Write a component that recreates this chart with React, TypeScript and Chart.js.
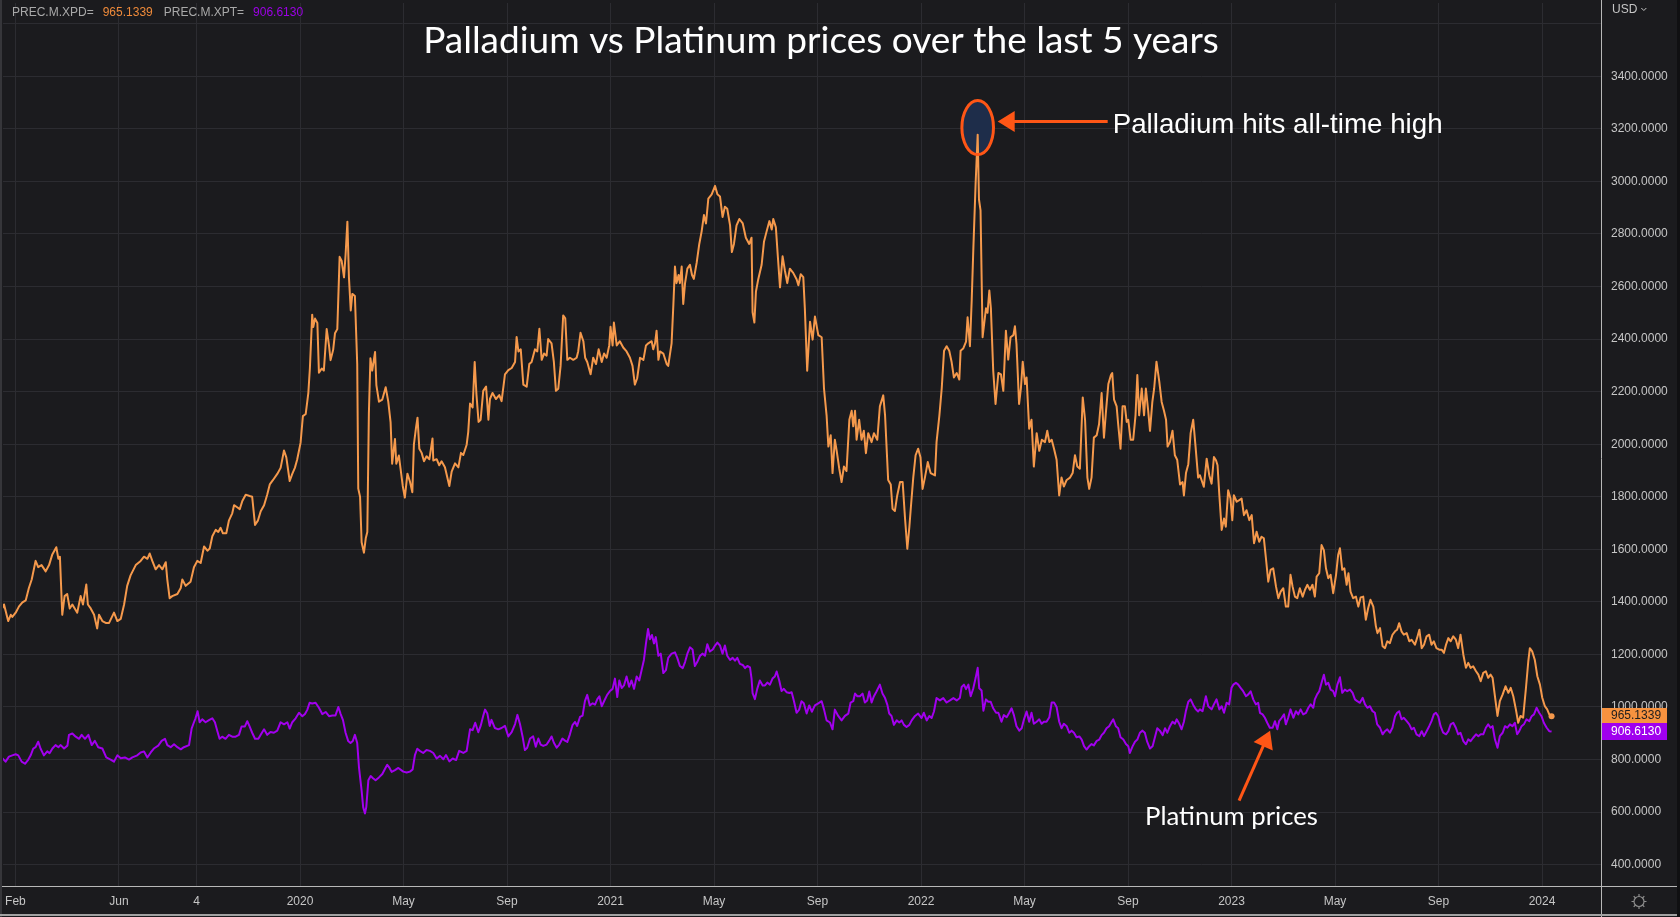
import React, { useEffect, useRef } from 'react';
import { Chart, registerables } from 'chart.js';

Chart.register(...registerables);

// x = months since 1 Jan 2019, y = USD price
const palladium: [number, number][] = [
[0.52,1365],[0.64,1390],[0.80,1327],[0.90,1351],[0.96,1343],[1.09,1359],[1.22,1383],[1.35,1398],[1.48,1406],[1.60,1453],[1.71,1485],[1.86,1556],[1.96,1532],[2.09,1540],[2.25,1516],[2.38,1540],[2.50,1579],[2.66,1608],[2.74,1564],[2.80,1572],[2.89,1351],[2.98,1422],[3.08,1430],[3.18,1375],[3.28,1390],[3.47,1359],[3.60,1422],[3.69,1390],[3.82,1466],[3.88,1390],[3.99,1375],[4.12,1351],[4.24,1299],[4.31,1351],[4.44,1327],[4.57,1320],[4.70,1320],[4.89,1359],[5.02,1327],[5.15,1335],[5.28,1390],[5.40,1461],[5.53,1501],[5.73,1540],[5.92,1556],[6.05,1572],[6.18,1564],[6.27,1584],[6.37,1556],[6.50,1524],[6.63,1540],[6.76,1524],[6.89,1551],[6.95,1485],[7.04,1414],[7.14,1422],[7.34,1430],[7.47,1453],[7.53,1485],[7.66,1461],[7.85,1477],[7.98,1532],[8.11,1556],[8.24,1548],[8.37,1611],[8.50,1595],[8.59,1603],[8.69,1650],[8.82,1674],[8.92,1666],[9.01,1682],[9.10,1661],[9.23,1661],[9.33,1709],[9.46,1737],[9.53,1768],[9.65,1760],[9.75,1753],[9.85,1784],[9.98,1808],[10.13,1803],[10.23,1800],[10.34,1693],[10.45,1709],[10.56,1745],[10.69,1768],[10.81,1808],[10.91,1847],[11.03,1863],[11.20,1887],[11.33,1910],[11.46,1976],[11.55,1950],[11.68,1860],[11.78,1887],[11.88,1910],[11.97,1942],[12.10,2005],[12.19,2107],[12.30,2115],[12.40,2194],[12.46,2288],[12.55,2493],[12.59,2446],[12.66,2478],[12.75,2461],[12.81,2272],[12.92,2288],[13.00,2280],[13.11,2438],[13.20,2375],[13.26,2320],[13.36,2359],[13.43,2422],[13.52,2438],[13.61,2713],[13.69,2697],[13.78,2635],[13.84,2721],[13.91,2847],[13.97,2635],[14.04,2509],[14.10,2572],[14.20,2564],[14.29,2304],[14.33,1831],[14.40,1800],[14.46,1627],[14.55,1587],[14.62,1642],[14.68,1666],[14.74,2115],[14.80,2327],[14.87,2280],[14.98,2351],[15.03,2225],[15.13,2162],[15.26,2170],[15.39,2217],[15.49,2162],[15.58,2083],[15.64,1926],[15.75,2020],[15.80,1926],[15.90,1957],
[16.05,1841],[16.13,1797],[16.23,1888],[16.33,1857],[16.42,1817],[16.48,1998],[16.56,2061],[16.62,2101],[16.69,1983],[16.78,1967],[16.87,1935],[16.97,1954],[17.08,1943],[17.20,2022],[17.23,1938],[17.36,1943],[17.46,1920],[17.55,1935],[17.68,1912],[17.85,1841],[17.94,1896],[18.07,1927],[18.20,1912],[18.30,1967],[18.39,1959],[18.52,1998],[18.58,2046],[18.65,2155],[18.75,2140],[18.83,2313],[18.90,2187],[18.98,2085],[19.06,2093],[19.16,2203],[19.27,2219],[19.36,2093],[19.42,2172],[19.52,2195],[19.65,2172],[19.78,2187],[19.87,2164],[20.00,2266],[20.13,2282],[20.26,2290],[20.39,2313],[20.45,2408],[20.52,2353],[20.61,2361],[20.71,2227],[20.84,2219],[20.94,2305],[21.03,2313],[21.16,2361],[21.25,2353],[21.33,2439],[21.42,2321],[21.51,2345],[21.61,2337],[21.67,2400],[21.80,2384],[21.89,2313],[21.97,2203],[22.06,2211],[22.15,2298],[22.25,2490],[22.33,2479],[22.41,2321],[22.51,2329],[22.64,2321],[22.77,2329],[22.83,2353],[22.92,2424],[23.03,2392],[23.10,2329],[23.18,2313],[23.31,2266],[23.41,2329],[23.52,2305],[23.62,2361],[23.74,2313],[23.83,2345],[23.93,2329],[24.03,2376],[24.08,2447],[24.16,2376],[24.21,2463],[24.32,2376],[24.44,2392],[24.57,2368],[24.70,2353],[24.83,2329],[24.93,2298],[25.02,2227],[25.11,2251],[25.22,2329],[25.35,2321],[25.45,2376],[25.54,2384],[25.67,2392],[25.73,2361],[25.80,2384],[25.86,2432],[25.93,2321],[25.99,2353],[26.12,2345],[26.25,2305],[26.31,2298],[26.44,2384],[26.51,2534],[26.57,2676],[26.63,2613],[26.71,2644],[26.76,2613],[26.83,2676],[26.89,2534],[26.96,2613],[27.05,2668],[27.15,2683],[27.23,2644],[27.30,2629],[27.41,2691],[27.51,2762],[27.60,2809],[27.69,2872],[27.77,2840],[27.86,2935],[27.99,2951],[28.12,2983],[28.21,2951],[28.31,2943],[28.41,2865],[28.50,2904],[28.59,2896],[28.70,2833],[28.77,2731],[28.85,2762],[28.95,2833],[29.06,2857],[29.19,2840],[29.31,2786],[29.44,2762],[29.53,2786],[29.57,2502],[29.64,2463],[29.70,2581],[29.79,2628],[29.92,2683],[30.01,2770],[30.11,2809],[30.22,2849],[30.31,2817],[30.37,2857],[30.47,2825],[30.54,2723],[30.63,2597],[30.73,2715],[30.82,2660],[30.91,2613],[31.01,2668],[31.14,2652],[31.27,2628],[31.34,2605],[31.43,2647],[31.53,2636],
[31.59,2517],[31.68,2280],[31.79,2466],[31.89,2398],[31.98,2486],[32.11,2415],[32.24,2407],[32.33,2212],[32.43,2110],[32.50,1991],[32.59,2034],[32.66,1890],[32.75,2017],[32.82,1975],[32.92,1907],[33.01,1856],[33.10,1915],[33.20,1898],[33.31,2093],[33.40,2127],[33.46,2068],[33.53,2127],[33.59,2017],[33.69,2093],[33.78,2017],[33.87,2051],[33.95,1966],[34.04,2042],[34.17,2008],[34.26,2042],[34.39,2017],[34.49,2144],[34.62,2186],[34.69,2110],[34.81,1864],[34.91,1847],[34.98,1754],[35.07,1746],[35.16,1805],[35.27,1856],[35.37,1856],[35.46,1720],[35.55,1602],[35.63,1686],[35.69,1763],[35.78,1873],[35.87,1958],[35.97,1983],[36.06,1949],[36.14,1830],[36.23,1873],[36.34,1932],[36.45,1890],[36.62,1881],[36.68,2008],[36.79,2110],[36.88,2212],[36.97,2356],[37.07,2373],[37.17,2356],[37.26,2314],[37.35,2254],[37.46,2271],[37.56,2246],[37.61,2356],[37.71,2364],[37.82,2390],[37.88,2483],[37.97,2373],[38.04,2551],[38.10,2737],[38.19,2992],[38.27,3178],[38.32,2932],[38.38,2890],[38.46,2407],[38.52,2458],[38.59,2517],[38.65,2500],[38.72,2585],[38.78,2517],[38.87,2280],[38.96,2153],[39.07,2271],[39.17,2266],[39.26,2203],[39.36,2432],[39.45,2322],[39.54,2407],[39.65,2415],[39.71,2449],[39.77,2381],[39.87,2153],[39.94,2212],[40.01,2314],[40.10,2229],[40.16,2254],[40.26,2059],[40.35,2093],[40.44,1915],[40.55,2042],[40.65,1975],[40.75,2017],[40.87,2008],[40.96,2051],[41.04,2008],[41.13,2017],[41.22,1983],[41.32,1941],[41.42,1805],[41.51,1873],[41.60,1839],[41.71,1864],[41.84,1873],[41.94,1890],[42.03,1958],[42.12,1915],[42.22,1907],[42.33,2178],[42.42,2093],[42.51,1873],[42.58,1830],[42.67,1873],[42.76,2025],[42.87,2034],[42.96,2076],[43.06,2195],[43.15,2025],[43.23,2127],[43.32,2229],[43.42,2263],[43.47,2271],[43.54,2170],[43.64,2144],[43.70,2076],[43.79,1983],[43.87,2144],[43.96,2144],[44.03,2085],[44.09,2093],[44.18,2017],[44.28,2017],[44.37,2110],[44.44,2263],[44.51,2110],[44.61,2212],[44.70,2110],[44.77,2212],[44.86,2127],[44.93,2051],[45.02,2161],[45.09,2212],[45.18,2314],[45.29,2237],[45.38,2161],[45.47,2127],[45.55,2093],[45.61,1991],[45.70,2008],[45.80,2051],[45.89,1958],[45.98,1941],[46.09,1847],[46.19,1856],[46.24,1805],[46.32,1890],[46.41,1924],[46.50,2042],[46.60,2093],[46.69,1991],[46.79,1873],
[46.86,1882],[47.01,1838],[47.12,1945],[47.22,1882],[47.31,1850],[47.40,1951],[47.48,1939],[47.54,1920],[47.61,1806],[47.70,1674],[47.79,1717],[47.86,1686],[47.95,1825],[48.04,1793],[48.11,1711],[48.17,1806],[48.28,1781],[48.38,1787],[48.47,1793],[48.56,1730],[48.66,1749],[48.77,1711],[48.86,1730],[48.95,1623],[49.05,1667],[49.15,1629],[49.24,1648],[49.33,1642],[49.41,1566],[49.50,1477],[49.59,1522],[49.69,1528],[49.80,1458],[49.89,1414],[49.98,1439],[50.08,1452],[50.18,1382],[50.27,1382],[50.36,1503],[50.44,1458],[50.53,1420],[50.62,1414],[50.72,1452],[50.83,1420],[50.92,1446],[51.01,1465],[51.11,1446],[51.21,1465],[51.30,1420],[51.37,1496],[51.47,1509],[51.56,1616],[51.65,1597],[51.73,1528],[51.82,1490],[51.91,1503],[52.01,1433],[52.12,1503],[52.20,1578],[52.27,1604],[52.36,1522],[52.44,1528],[52.53,1465],[52.60,1509],[52.68,1439],[52.78,1414],[52.89,1420],[52.98,1382],[53.07,1417],[53.17,1420],[53.27,1332],[53.36,1376],[53.45,1408],[53.56,1382],[53.66,1307],[53.72,1281],[53.82,1300],[53.92,1231],[54.01,1224],[54.10,1250],[54.20,1243],[54.30,1275],[54.40,1288],[54.48,1294],[54.56,1319],[54.65,1288],[54.74,1275],[54.85,1281],[54.95,1250],[55.04,1256],[55.17,1237],[55.25,1262],[55.34,1294],[55.43,1224],[55.52,1237],[55.62,1269],[55.72,1275],[55.81,1237],[55.90,1250],[56.00,1224],[56.11,1218],[56.20,1218],[56.29,1206],[56.37,1237],[56.46,1262],[56.55,1250],[56.65,1269],[56.75,1256],[56.84,1224],[56.93,1275],[57.04,1199],[57.14,1149],[57.23,1168],[57.32,1149],[57.42,1155],[57.53,1136],[57.62,1123],[57.71,1098],[57.81,1130],[57.91,1136],[58.00,1111],[58.09,1123],[58.17,1111],[58.26,1041],[58.36,966],[58.45,1022],[58.56,1048],[58.67,1079],[58.78,1054],[58.87,1073],[58.97,1041],[59.07,991],[59.16,940],[59.25,966],[59.35,959],[59.46,1073],[59.55,1174],[59.61,1224],[59.70,1212],[59.80,1180],[59.90,1117],[60.00,1085],[60.09,1035],[60.19,1003],[60.28,991],[60.36,972],[60.45,965.1339]
];

const platinum: [number, number][] = [
[0.55,808],[0.70,792],[0.83,811],[0.96,816],[1.09,820],[1.19,816],[1.32,792],[1.45,784],[1.58,800],[1.67,816],[1.77,842],[1.86,847],[1.96,868],[2.05,842],[2.18,816],[2.31,831],[2.40,824],[2.51,842],[2.63,855],[2.74,847],[2.83,855],[2.96,842],[3.09,853],[3.15,894],[3.28,899],[3.41,887],[3.54,879],[3.64,894],[3.77,879],[3.90,894],[4.03,855],[4.15,871],[4.28,847],[4.44,842],[4.59,808],[4.76,800],[4.89,792],[5.02,816],[5.15,805],[5.31,808],[5.47,800],[5.60,808],[5.79,816],[5.92,827],[6.05,831],[6.18,808],[6.31,827],[6.43,842],[6.60,853],[6.73,871],[6.86,879],[6.95,855],[7.08,847],[7.21,858],[7.34,847],[7.47,839],[7.59,847],[7.79,855],[7.89,918],[7.98,942],[8.04,957],[8.12,984],[8.20,942],[8.30,953],[8.43,942],[8.56,950],[8.69,957],[8.79,942],[8.88,910],[8.97,879],[9.07,887],[9.20,879],[9.33,894],[9.46,887],[9.59,887],[9.72,894],[9.82,926],[9.95,926],[10.04,946],[10.13,926],[10.23,902],[10.34,879],[10.47,879],[10.56,894],[10.69,915],[10.81,894],[10.94,905],[11.07,902],[11.20,910],[11.33,942],[11.46,934],[11.59,942],[11.68,918],[11.78,942],[11.91,957],[12.04,978],[12.17,965],[12.27,973],[12.36,989],[12.45,1016],[12.55,1013],[12.68,1016],[12.81,997],[12.94,973],[13.07,981],[13.20,965],[13.33,968],[13.45,968],[13.56,1000],[13.65,973],[13.74,950],[13.84,902],[13.94,871],[14.03,863],[14.12,871],[14.20,894],[14.29,863],[14.36,768],[14.46,682],[14.52,619],[14.59,595],[14.64,619],[14.72,721],[14.81,737],[14.90,729],[15.00,721],[15.13,732],[15.26,745],[15.36,764],[15.45,780],[15.54,768],[15.62,753],[15.75,760],[15.88,768],
[16.07,754],[16.20,751],[16.33,754],[16.43,762],[16.52,817],[16.61,841],[16.71,833],[16.84,825],[16.97,836],[17.10,833],[17.23,825],[17.36,804],[17.49,814],[17.62,801],[17.72,817],[17.85,793],[17.98,804],[18.11,798],[18.23,833],[18.39,825],[18.52,833],[18.65,915],[18.75,912],[18.85,940],[18.97,904],[19.06,928],[19.16,967],[19.23,990],[19.32,975],[19.41,928],[19.48,951],[19.61,920],[19.74,915],[19.87,920],[20.00,928],[20.13,888],[20.26,904],[20.39,935],[20.48,970],[20.58,935],[20.68,888],[20.77,836],[20.86,845],[20.97,880],[21.09,888],[21.19,849],[21.29,880],[21.38,857],[21.48,852],[21.61,857],[21.71,872],[21.80,888],[21.89,864],[22.00,845],[22.10,857],[22.22,880],[22.32,872],[22.41,867],[22.51,896],[22.61,931],[22.71,943],[22.79,928],[22.90,962],[23.00,967],[23.09,1022],[23.18,1046],[23.28,1006],[23.39,1014],[23.48,1009],[23.57,1030],[23.65,1041],[23.74,1003],[23.83,1022],[23.95,1046],[24.06,1061],[24.16,1069],[24.25,1108],[24.34,1038],[24.42,1101],[24.51,1072],[24.60,1082],[24.70,1116],[24.80,1077],[24.89,1101],[24.99,1069],[25.09,1116],[25.19,1101],[25.28,1140],[25.37,1179],[25.45,1242],[25.53,1297],[25.60,1258],[25.68,1274],[25.76,1242],[25.83,1266],[25.93,1195],[26.02,1203],[26.12,1129],[26.22,1140],[26.31,1187],[26.44,1203],[26.57,1208],[26.66,1187],[26.76,1156],[26.87,1148],[26.96,1171],[27.05,1203],[27.15,1227],[27.25,1219],[27.34,1156],[27.43,1171],[27.54,1195],[27.64,1203],[27.73,1195],[27.82,1239],[27.92,1211],[28.03,1219],[28.12,1234],[28.21,1245],[28.31,1234],[28.41,1203],[28.50,1234],[28.59,1195],[28.70,1179],[28.80,1187],[28.89,1176],[28.98,1187],[29.08,1164],[29.19,1160],[29.28,1148],[29.37,1156],[29.47,1151],[29.53,1108],[29.57,1053],[29.66,1030],[29.75,1069],[29.85,1101],[29.96,1082],[30.05,1082],[30.14,1093],[30.24,1085],[30.34,1108],[30.43,1116],[30.50,1135],[30.60,1101],[30.69,1061],[30.78,1069],[30.89,1056],[30.99,1053],[31.08,1056],[31.17,1022],[31.27,978],[31.37,990],[31.46,1022],[31.55,1014],[31.66,975],[31.76,1006],[31.86,982],[31.98,1006],[32.11,1014],
[32.24,1022],[32.33,991],[32.43,949],[32.56,941],[32.66,915],[32.75,990],[32.88,966],[33.01,949],[33.14,966],[33.27,975],[33.36,1017],[33.46,1022],[33.53,1051],[33.62,1041],[33.72,1041],[33.82,1051],[33.91,1017],[34.00,1025],[34.08,1059],[34.17,1017],[34.26,1041],[34.36,1059],[34.49,1085],[34.59,1051],[34.69,1034],[34.78,1008],[34.85,975],[34.94,966],[35.03,932],[35.14,949],[35.24,941],[35.33,949],[35.42,932],[35.52,924],[35.63,932],[35.72,949],[35.85,966],[35.97,975],[36.10,958],[36.19,978],[36.30,949],[36.40,966],[36.49,958],[36.58,983],[36.68,1034],[36.81,1025],[36.94,1034],[37.07,1017],[37.20,1025],[37.33,1034],[37.46,1025],[37.58,1034],[37.65,1076],[37.74,1085],[37.82,1068],[37.91,1085],[38.00,1041],[38.10,1071],[38.19,1110],[38.27,1149],[38.33,1071],[38.42,1063],[38.49,986],[38.59,1029],[38.68,1020],[38.77,1020],[38.87,995],[38.98,978],[39.07,978],[39.19,944],[39.28,969],[39.39,961],[39.49,978],[39.58,995],[39.67,969],[39.77,927],[39.88,910],[39.97,919],[40.06,953],[40.16,983],[40.26,944],[40.35,978],[40.44,936],[40.55,944],[40.65,953],[40.74,936],[40.83,944],[40.93,944],[41.04,961],[41.13,1017],[41.22,1017],[41.32,1000],[41.42,944],[41.51,919],[41.60,936],[41.71,927],[41.81,902],[41.90,910],[41.99,902],[42.09,885],[42.20,888],[42.29,876],[42.38,851],[42.48,838],[42.58,851],[42.67,859],[42.76,854],[42.87,871],[42.97,876],[43.06,893],[43.15,902],[43.25,919],[43.35,927],[43.45,944],[43.51,953],[43.61,927],[43.70,919],[43.79,885],[43.90,876],[44.00,859],[44.09,851],[44.15,825],[44.26,851],[44.35,868],[44.44,876],[44.54,902],[44.64,910],[44.73,902],[44.82,868],[44.93,842],[45.03,851],[45.12,885],[45.21,919],[45.31,910],[45.42,893],[45.51,919],[45.60,902],[45.70,927],[45.80,944],[45.89,936],[45.96,953],[46.06,936],[46.15,915],[46.24,944],[46.32,986],[46.41,1020],[46.50,1029],[46.60,1008],[46.70,991],[46.79,983],
[46.86,991],[46.96,984],[47.09,1041],[47.18,1003],[47.31,991],[47.40,1010],[47.50,1029],[47.61,991],[47.70,1003],[47.79,978],[47.89,1016],[47.99,1010],[48.08,1073],[48.15,1085],[48.25,1092],[48.34,1085],[48.43,1073],[48.53,1060],[48.64,1041],[48.73,1048],[48.82,1060],[48.92,1029],[49.02,1010],[49.11,1016],[49.18,978],[49.28,972],[49.37,959],[49.46,940],[49.56,921],[49.67,921],[49.76,946],[49.85,915],[49.92,946],[50.02,959],[50.11,972],[50.18,934],[50.27,959],[50.36,991],[50.47,959],[50.57,984],[50.66,972],[50.75,991],[50.85,972],[50.96,978],[51.05,997],[51.14,1010],[51.24,997],[51.30,1029],[51.39,1048],[51.47,1060],[51.56,1092],[51.65,1123],[51.73,1085],[51.82,1092],[51.91,1066],[52.01,1060],[52.08,1041],[52.17,1085],[52.27,1113],[52.36,1054],[52.46,1066],[52.55,1060],[52.66,1066],[52.76,1054],[52.85,1029],[52.94,1022],[53.04,1016],[53.15,1035],[53.24,1010],[53.33,997],[53.43,1003],[53.53,984],[53.62,978],[53.71,934],[53.82,921],[53.92,896],[54.01,908],[54.10,915],[54.20,902],[54.30,921],[54.40,965],[54.48,978],[54.56,984],[54.65,953],[54.74,959],[54.85,946],[54.95,934],[55.04,915],[55.13,921],[55.23,896],[55.34,889],[55.43,908],[55.52,889],[55.62,908],[55.72,927],[55.81,946],[55.90,972],[55.98,978],[56.07,965],[56.16,927],[56.26,902],[56.37,896],[56.46,908],[56.55,934],[56.65,940],[56.75,921],[56.84,896],[56.93,902],[57.04,870],[57.14,858],[57.23,877],[57.32,870],[57.42,883],[57.53,896],[57.62,889],[57.71,896],[57.81,896],[57.91,921],[58.00,934],[58.09,921],[58.17,927],[58.26,877],[58.36,845],[58.45,889],[58.56,902],[58.65,927],[58.74,921],[58.84,934],[58.94,927],[59.03,940],[59.12,896],[59.20,908],[59.29,927],[59.38,934],[59.48,953],[59.59,946],[59.68,965],[59.77,972],[59.87,997],[59.97,978],[60.06,965],[60.15,940],[60.26,921],[60.36,908],[60.45,906.613]
];

// first trading day of each labelled month, in months since 1 Jan 2019
const monthTicks = [1.08, 5.08, 8.08, 12.08, 16.08, 20.08, 24.08, 28.08, 32.08, 36.08, 40.08, 44.08, 48.08, 52.08, 56.08, 60.08];
const monthTickLabels = ['Feb', 'Jun', '4', '2020', 'May', 'Sep', '2021', 'May', 'Sep', '2022', 'May', 'Sep', '2023', 'May', 'Sep', '2024'];
const priceTicks = [400, 600, 800, 1000, 1200, 1400, 1600, 1800, 2000, 2200, 2400, 2600, 2800, 3000, 3200, 3400, 3600];

const palladiumLabel = 'PREC.M.XPD=';
const platinumLabel = 'PREC.M.XPT=';
const palladiumLast = '965.1339';
const platinumLast = '906.6130';
const titleText = 'Palladium vs Platinum prices over the last 5 years';
const peakText = 'Palladium hits all-time high';
const platinumText = 'Platinum prices';
const peakAnchor = { month: 38.27, price: 3205 };
const platinumAnchor = { month: 49.57, price: 910 };

const BG = '#1b1b1e';
const GRID = '#2c2c31';
const AXIS = '#b8b8b8';
const TICK = '#c6c6c6';
const PD = '#f5994c';
const PT = '#a200ee';
const ANNOT = '#ff5616';
const NAVY = '#1e2d4a';

const SANS = "'Liberation Sans', Arial, sans-serif";
const HUMAN = "Lato, 'Open Sans', sans-serif";

function fitSize(ctx: any, text: string, family: string, width: number) {
  ctx.font = `100px ${family}`;
  return (100 * width) / ctx.measureText(text).width;
}

function drawArrow(ctx: any, x1: number, y1: number, x2: number, y2: number) {
  const dx = x2 - x1, dy = y2 - y1;
  const len = Math.hypot(dx, dy);
  const ux = dx / len, uy = dy / len;
  const head = 17, half = 10.5;
  const bx = x2 - ux * head, by = y2 - uy * head;
  ctx.save();
  ctx.strokeStyle = ANNOT;
  ctx.fillStyle = ANNOT;
  ctx.lineWidth = 3;
  ctx.beginPath();
  ctx.moveTo(x1, y1);
  ctx.lineTo(bx + ux * 2, by + uy * 2);
  ctx.stroke();
  ctx.beginPath();
  ctx.moveTo(x2, y2);
  ctx.lineTo(bx - uy * half, by + ux * half);
  ctx.lineTo(bx + uy * half, by - ux * half);
  ctx.closePath();
  ctx.fill();
  ctx.restore();
}

const overlay = {
  id: 'overlay',
  beforeDraw(chart: any) {
    const ctx = chart.ctx;
    ctx.save();
    ctx.fillStyle = BG;
    ctx.fillRect(0, 0, chart.width, chart.height);
    ctx.restore();
  },
  beforeDatasetsDraw(chart: any) {
    const { ctx, scales } = chart;
    const cx = scales.x.getPixelForValue(peakAnchor.month);
    const cy = scales.y.getPixelForValue(peakAnchor.price);
    ctx.save();
    ctx.beginPath();
    ctx.ellipse(cx, cy, 15.8, 27, 0, 0, Math.PI * 2);
    ctx.fillStyle = NAVY;
    ctx.fill();
    ctx.restore();
  },
  afterDatasetsDraw(chart: any) {
    const { ctx, scales } = chart;
    const cx = scales.x.getPixelForValue(peakAnchor.month);
    const cy = scales.y.getPixelForValue(peakAnchor.price);
    ctx.save();
    ctx.beginPath();
    ctx.ellipse(cx, cy, 15.8, 27, 0, 0, Math.PI * 2);
    ctx.strokeStyle = ANNOT;
    ctx.lineWidth = 3;
    ctx.stroke();
    ctx.restore();
    drawArrow(ctx, cx + 130, cy - 6, cx + 20, cy - 6);
    const px = scales.x.getPixelForValue(platinumAnchor.month);
    const py = scales.y.getPixelForValue(platinumAnchor.price);
    drawArrow(ctx, px - 31, py + 70, px, py);
  },
  afterDraw(chart: any) {
    const { ctx, scales, chartArea } = chart;
    const W = chart.width, H = chart.height;
    ctx.save();
    ctx.strokeStyle = AXIS;
    ctx.lineWidth = 1;
    ctx.beginPath();
    ctx.moveTo(Math.round(chartArea.right) + 0.5, 0);
    ctx.lineTo(Math.round(chartArea.right) + 0.5, H);
    ctx.moveTo(0, Math.round(chartArea.bottom) - 0.5);
    ctx.lineTo(W, Math.round(chartArea.bottom) - 0.5);
    ctx.stroke();

    const tagX = Math.round(chartArea.right) + 1;
    const drawTag = (val: number, txt: string, fill: string, color: string) => {
      const y = scales.y.getPixelForValue(val);
      ctx.fillStyle = fill;
      ctx.fillRect(tagX, Math.round(y - 8.5), 65, 17);
      ctx.fillStyle = color;
      ctx.font = `12px ${SANS}`;
      ctx.textAlign = 'left';
      ctx.textBaseline = 'middle';
      ctx.fillText(txt, tagX + 9, y);
    };
    drawTag(parseFloat(palladiumLast), palladiumLast, '#f7923f', '#1e1e1e');
    drawTag(parseFloat(platinumLast), platinumLast, '#a000ee', '#ffffff');

    ctx.font = `12px ${SANS}`;
    ctx.textAlign = 'left';
    ctx.textBaseline = 'middle';
    let lx = 12;
    const parts: [string, string][] = [
      [palladiumLabel, '#a9a9a9'], [palladiumLast, '#ee8a3a'],
      [platinumLabel, '#a9a9a9'], [platinumLast, '#9c00e6'],
    ];
    parts.forEach(([t, c], i) => {
      ctx.fillStyle = c;
      ctx.fillText(t, lx, 13);
      lx += ctx.measureText(t).width + (i % 2 === 0 ? 9 : 11);
    });

    ctx.fillStyle = TICK;
    ctx.fillText('USD', tagX + 10, 9.5);
    const ux = tagX + 10 + ctx.measureText('USD').width + 4;
    ctx.strokeStyle = TICK;
    ctx.lineWidth = 1;
    ctx.beginPath();
    ctx.moveTo(ux, 8);
    ctx.lineTo(ux + 2.5, 10.5);
    ctx.lineTo(ux + 5, 8);
    ctx.stroke();

    const gx = 1639, gy = 901.5;
    ctx.strokeStyle = '#8e8e8e';
    ctx.lineWidth = 1.2;
    ctx.beginPath();
    ctx.arc(gx, gy, 5, 0, Math.PI * 2);
    ctx.stroke();
    ctx.beginPath();
    for (let k = 0; k < 8; k++) {
      const a = (k * Math.PI) / 4 + Math.PI / 2;
      ctx.moveTo(gx + Math.cos(a) * 5, gy + Math.sin(a) * 5);
      ctx.lineTo(gx + Math.cos(a) * 7.5, gy + Math.sin(a) * 7.5);
    }
    ctx.stroke();

    ctx.fillStyle = '#ffffff';
    ctx.textAlign = 'center';
    ctx.textBaseline = 'alphabetic';
    const ts = fitSize(ctx, titleText, HUMAN, 796);
    ctx.font = `${ts}px ${HUMAN}`;
    ctx.fillText(titleText, 821, 53);

    const cx = scales.x.getPixelForValue(peakAnchor.month);
    const cy = scales.y.getPixelForValue(peakAnchor.price);
    const ps = fitSize(ctx, peakText, SANS, 330);
    ctx.font = `${ps}px ${SANS}`;
    ctx.textAlign = 'left';
    ctx.fillText(peakText, cx + 135, cy + 5);

    const px = scales.x.getPixelForValue(platinumAnchor.month);
    const py = scales.y.getPixelForValue(platinumAnchor.price);
    const ls = fitSize(ctx, platinumText, HUMAN, 173);
    ctx.font = `${ls}px ${HUMAN}`;
    ctx.fillText(platinumText, px - 125, py + 94);

    ctx.fillStyle = '#36363a';
    ctx.fillRect(0, 0, 2, H);
    ctx.fillStyle = '#a2a2a2';
    ctx.fillRect(0, H - 3, W, 2);
    ctx.fillStyle = '#101012';
    ctx.fillRect(W - 3, 0, 3, H);
    ctx.restore();
  },
};

export default function App() {
  const ref = useRef<HTMLCanvasElement | null>(null);

  useEffect(() => {
    document.body.style.margin = '0';
    document.body.style.background = BG;
    const canvas = ref.current;
    if (!canvas) return;
    const pdPoints = palladium.map(([x, y]) => ({ x, y }));
    const ptPoints = platinum.map(([x, y]) => ({ x, y }));
    const lastPd = pdPoints.length - 1;
    const chart = new Chart(canvas, {
      type: 'line',
      data: {
        datasets: [
          {
            label: 'Palladium',
            data: pdPoints,
            borderColor: PD,
            backgroundColor: PD,
            borderWidth: 2,
            borderJoinStyle: 'round',
            pointRadius: (c: any) => (c.dataIndex === lastPd ? 3 : 0),
            pointBorderWidth: 0,
            pointBackgroundColor: PD,
            pointHoverRadius: 0,
            tension: 0,
            fill: false,
          },
          {
            label: 'Platinum',
            data: ptPoints,
            borderColor: PT,
            backgroundColor: PT,
            borderWidth: 2,
            borderJoinStyle: 'round',
            pointRadius: 0,
            pointHoverRadius: 0,
            tension: 0,
            fill: false,
          },
        ],
      },
      options: {
        responsive: false,
        maintainAspectRatio: false,
        animation: false,
        events: [],
        layout: { padding: { left: 3, top: 0, right: 0, bottom: 0 } },
        plugins: {
          legend: { display: false },
          tooltip: { enabled: false },
          title: { display: false },
        },
        scales: {
          x: {
            type: 'linear',
            position: 'bottom',
            min: 0.6,
            max: 62.36,
            afterFit: (s: any) => { s.height = 30; s.paddingLeft = 0; s.paddingRight = 0; s.paddingTop = 0; s.paddingBottom = 0; },
            afterBuildTicks: (s: any) => { s.ticks = monthTicks.map((v) => ({ value: v })); },
            grid: { color: GRID, lineWidth: 1, drawTicks: false, tickLength: 0 },
            border: { display: false },
            ticks: {
              autoSkip: false,
              maxRotation: 0,
              padding: 7,
              color: TICK,
              font: { family: SANS, size: 12 },
              callback: (_v: any, i: number) => monthTickLabels[i],
            },
          },
          y: {
            type: 'linear',
            position: 'right',
            min: 315,
            max: 3679,
            afterFit: (s: any) => { s.width = 79; s.paddingTop = 0; s.paddingBottom = 0; s.paddingLeft = 0; s.paddingRight = 0; },
            afterBuildTicks: (s: any) => { s.ticks = priceTicks.map((v) => ({ value: v })); },
            grid: { color: GRID, lineWidth: 1, drawTicks: false, tickLength: 0 },
            border: { display: false },
            ticks: {
              padding: 10,
              color: TICK,
              font: { family: SANS, size: 12 },
              callback: (v: any) => (v >= 3600 ? '' : Number(v).toFixed(4)),
            },
          },
        },
      },
      plugins: [overlay],
    } as any);
    return () => chart.destroy();
  }, []);

  return (
    <div style={{ width: 1680, height: 917, position: 'relative', background: BG }}>
      <canvas ref={ref} width={1680} height={917} style={{ display: 'block' }} />
    </div>
  );
}
